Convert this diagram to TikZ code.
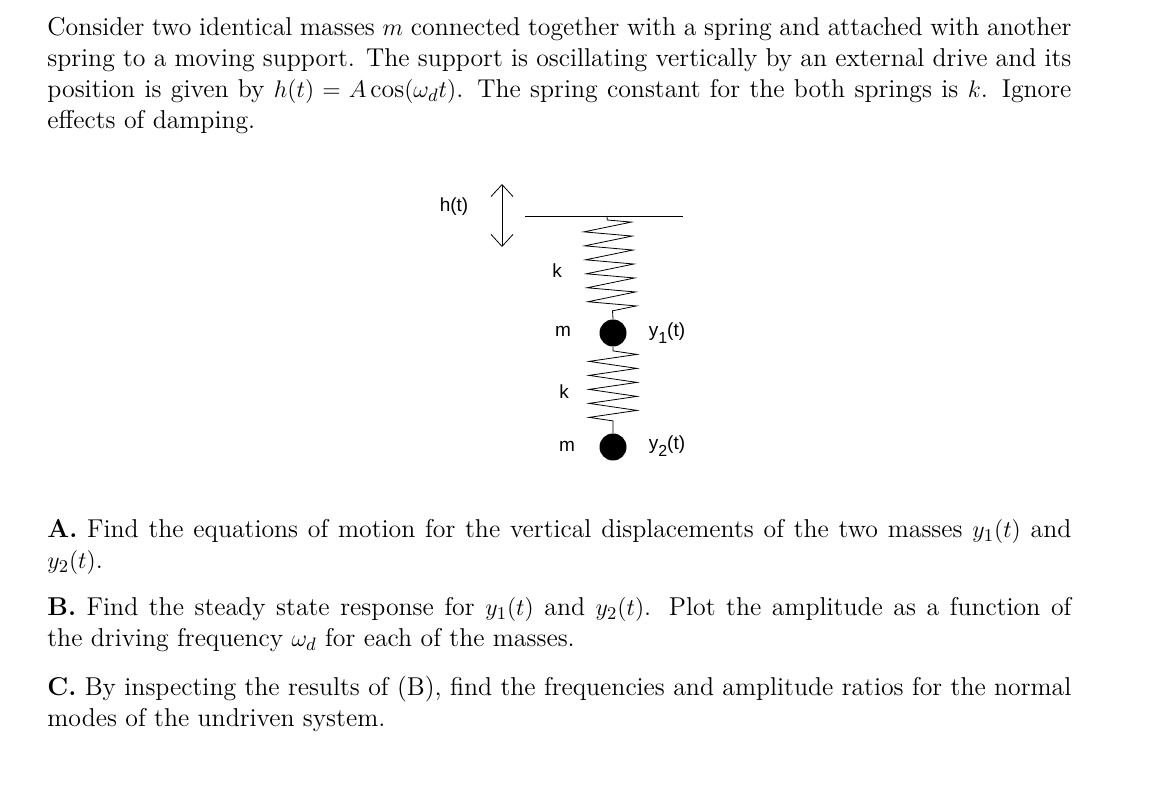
\documentclass[tikz,border=0pt]{standalone}
\usepackage{fontspec}
\setsansfont{Liberation Sans}
\usetikzlibrary{decorations.pathmorphing,arrows.meta}
\newcommand{\lowsub}[1]{\raisebox{-3.2pt}{\fontsize{8}{9}\selectfont #1}}
\begin{document}
\begin{tikzpicture}[x=0.5pt,y=-0.5pt,
  para/.style={anchor=north west,inner sep=0pt,text width=512pt,align=justify,font=\fontsize{12.9}{15.5}\selectfont},
  lab/.style={font=\sffamily\fontsize{9.5}{11}\selectfont,inner sep=0pt},
  mass/.style={circle,fill=black,minimum size=13.5pt,inner sep=0pt},
  spring/.style={decorate,decoration={zigzag,segment length=7pt,amplitude=12pt,pre length=2pt,post length=4pt},thin}]
\useasboundingbox (0,0) rectangle (1156,806);
\node[para] (p1) at (47,17) {Consider two identical masses $m$ connected together with a spring and attached with another\linebreak spring to a moving support. The support is oscillating vertically by an external drive and its\linebreak position is given by $h(t)=A\cos(\omega_d t)$. The spring constant for the both springs is $k$. Ignore\linebreak effects of damping.};
\node[para] (pa) at (47,519) {\textbf{A.} Find the equations of motion for the vertical displacements of the two masses $y_1(t)$ and\linebreak $y_2(t)$.};
\node[para] (pb) at (47,597) {\textbf{B.} Find the steady state response for $y_1(t)$ and $y_2(t)$. Plot the amplitude as a function of\linebreak the driving frequency $\omega_d$ for each of the masses.};
\node[para] (pc) at (47,676) {\textbf{C.} By inspecting the results of (B), find the frequencies and amplitude ratios for the normal\linebreak modes of the undriven system.};
% diagram
\coordinate (sL) at (525,216);
\coordinate (sR) at (683,216);
\coordinate (sT) at (607,216);
\draw[thin] (sL) -- (sR);
\coordinate (aT) at (502,184);
\coordinate (aB) at (502,247);
\draw[thin,{Straight Barb[length=6pt,width=11pt]}-{Straight Barb[length=6pt,width=11pt]}] (aT) -- (aB);
\node[lab] (h) at (454,207) {h(t)};
\node[mass] (m1) at (613,333) {};
\node[mass] (m2) at (613,447) {};
\draw[spring] (sT) -- (m1.north);
\draw[spring] (m1.south) -- (m2.north);
\node[lab] (k1) at (557,271) {k};
\node[lab] (ml1) at (563,331) {m};
\node[lab] (k2) at (564,392) {k};
\node[lab] (ml2) at (567,446) {m};
\node[lab] (y1) at (667,333) {y\lowsub{1}(t)};
\node[lab] (y2) at (667,446) {y\lowsub{2}(t)};
\end{tikzpicture}
\end{document}
